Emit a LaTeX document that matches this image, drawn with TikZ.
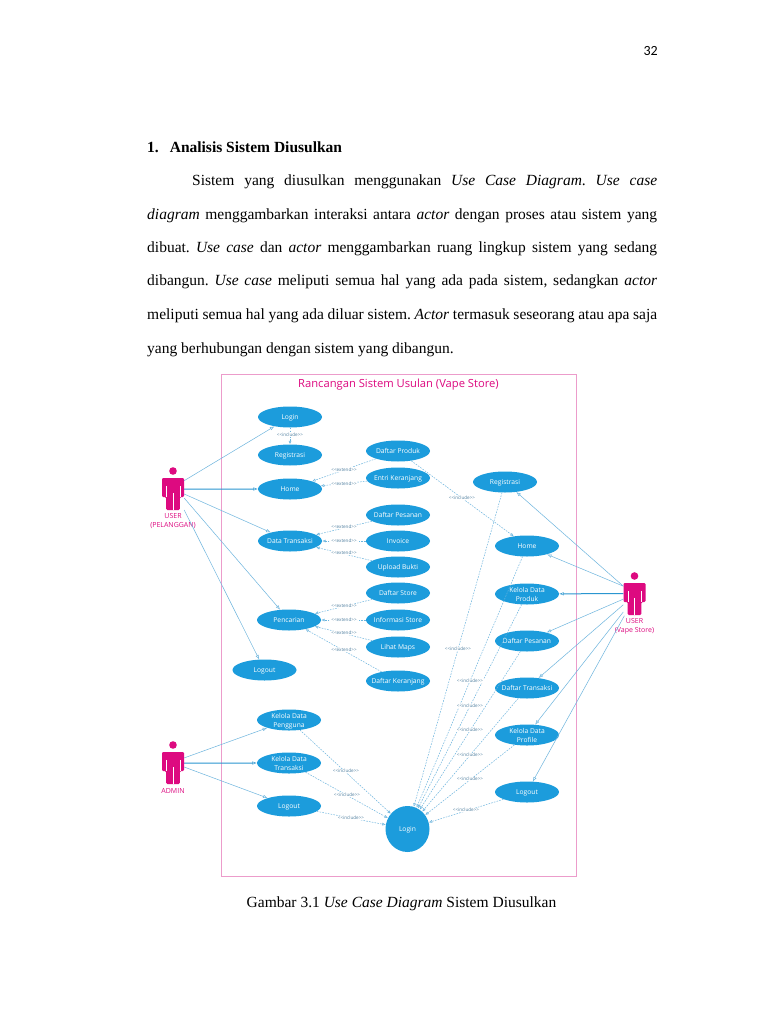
\documentclass[tikz,border=0pt]{standalone}
\usepackage{fontspec}
\setmainfont{Liberation Serif}
\newfontfamily\diag{Open Sans}
\newfontfamily\pagenumfont{Carlito}
\usetikzlibrary{shapes.geometric,arrows.meta}
\definecolor{ucblue}{HTML}{1C9CDC}
\definecolor{linkblue}{HTML}{6DB5DD}
\definecolor{strongblue}{HTML}{2A96D0}
\definecolor{actorpink}{HTML}{DD0A80}
\definecolor{framepink}{HTML}{EC9CCB}
\definecolor{labelgrey}{HTML}{4F7F9F}
\newcommand{\uctext}[1]{\makebox[0pt]{\smash{\raisebox{-0.42em}{\begin{tabular}{@{}c@{}}#1\end{tabular}}}}}
\newcommand{\actorshape}[2]{%
  \begin{scope}[shift={(#1,#2)}]
    \fill[actorpink] (0,-7) circle[radius=3.8];
    \fill[actorpink,rounded corners=1.2] (-11,0) -- (11,0) -- (11,19) -- (6.8,19) -- (6.8,32) -- (-6.8,32) -- (-6.8,19) -- (-11,19) -- cycle;
    \draw[white,line width=0.35] (-6.8,8) -- (-6.8,19) (6.8,8) -- (6.8,19) (0,15) -- (0,32);
  \end{scope}}
\tikzset{
  x=1pt,y=-1pt,
  uc/.style={ellipse,fill=ucblue,text=white,inner sep=0pt,minimum width=64pt,minimum height=21pt,font=\diag\fontsize{6.7}{9.5}\selectfont},
  assoc/.style={draw=linkblue,line width=0.5pt,-{Latex[open,length=4.5pt,width=3.4pt]}},
  strong/.style={draw=strongblue,line width=1pt,-{Latex[open,length=4.5pt,width=3.4pt,line width=0.5pt]}},
  dep/.style={draw=linkblue,line width=0.5pt,dash pattern=on 1.6pt off 1.2pt,-{Latex[open,length=3.5pt,width=3pt]}},
  lbl/.style={inner sep=0.5pt,fill=white,text=labelgrey,font=\diag\fontsize{4.6}{5}\selectfont},
  actorbox/.style={minimum width=#1,minimum height=32pt,inner sep=0pt},
  actorlabel/.style={inner sep=0pt,text=actorpink,align=center,font=\diag\fontsize{7}{8.8}\selectfont},
  body/.style={inner sep=0pt,anchor=base west,font=\fontsize{15.5}{18}\selectfont},
}
\begin{document}
\frenchspacing
\begin{tikzpicture}
\useasboundingbox (0,0) rectangle (768,1024);
\fill[white] (0,0) rectangle (768,1024);
% page text
\node[inner sep=0pt,anchor=base east,font=\pagenumfont\fontsize{14}{16}\selectfont] (pnum) at (658,56) {32};
\node[body,font=\bfseries\fontsize{15.5}{18}\selectfont] (head) at (147,152.5) {1.\hspace{11pt}Analisis Sistem Diusulkan};
\node[body] (l1) at (192,185.5) {\makebox[465pt][s]{Sistem yang diusulkan menggunakan \emph{Use Case Diagram}. \emph{Use case}}};
\node[body] (l2) at (147,219.5) {\makebox[510pt][s]{\emph{diagram} menggambarkan interaksi antara \emph{actor} dengan proses atau sistem yang}};
\node[body] (l3) at (147,252.5) {\makebox[510pt][s]{dibuat. \emph{Use case} dan \emph{actor} menggambarkan ruang lingkup sistem yang sedang}};
\node[body] (l4) at (147,285.5) {\makebox[510pt][s]{dibangun. \emph{Use case} meliputi semua hal yang ada pada sistem, sedangkan \emph{actor}}};
\node[body] (l5) at (147,319.5) {\makebox[510pt][s]{meliputi semua hal yang ada diluar sistem. \emph{Actor} termasuk seseorang atau apa saja}};
\node[body] (l6) at (147,353.5) {yang berhubungan dengan sistem yang dibangun.};
\node[inner sep=0pt,anchor=base,font=\fontsize{15.5}{18}\selectfont] (cap) at (401.5,907) {Gambar 3.1 \emph{Use Case Diagram} Sistem Diusulkan};
% frame
\node[draw=framepink,line width=0.7pt,minimum width=355pt,minimum height=502pt,inner sep=0pt] (frame) at (398.5,625) {};
\node[inner sep=0pt,text=actorpink,font=\diag\fontsize{11.2}{13}\selectfont] (title) at (398.5,384.5) {Rancangan Sistem Usulan (Vape Store)};
% use cases left
\node[uc] (login1) at (290,417) {\uctext{Login}};
\node[uc] (reg1) at (290,455) {\uctext{Registrasi}};
\node[uc] (home1) at (290,489) {\uctext{Home}};
\node[uc] (dt) at (290,541) {\uctext{Data Transaksi}};
\node[uc] (cari) at (289,620) {\uctext{Pencarian}};
\node[uc] (logout1) at (264.5,670) {\uctext{Logout}};
\node[uc] (dprod) at (398,451) {\uctext{Daftar Produk}};
\node[uc] (entri) at (398,478) {\uctext{Entri Keranjang}};
\node[uc] (dpes) at (398,515) {\uctext{Daftar Pesanan}};
\node[uc] (inv) at (398,541) {\uctext{Invoice}};
\node[uc] (upl) at (398,567) {\uctext{Upload Bukti}};
\node[uc] (dstore) at (398,593) {\uctext{Daftar Store}};
\node[uc] (istore) at (398,620) {\uctext{Informasi Store}};
\node[uc] (maps) at (398,647) {\uctext{Lihat Maps}};
\node[uc] (dker) at (398,681) {\uctext{Daftar Keranjang}};
\node[uc] (kpeng) at (289,720) {\uctext{Kelola Data\\Pengguna}};
\node[uc] (ktran) at (289,763) {\uctext{Kelola Data\\Transaksi}};
\node[uc] (logout2) at (289,806) {\uctext{Logout}};
\node[uc,minimum width=44pt,minimum height=46pt] (login) at (407.5,829) {\uctext{Login}};
% use cases right
\node[uc] (reg3) at (505,482) {\uctext{Registrasi}};
\node[uc] (home3) at (527,546) {\uctext{Home}};
\node[uc] (kprod) at (527,594) {\uctext{Kelola Data\\Produk}};
\node[uc] (pes3) at (527,641) {\uctext{Daftar Pesanan}};
\node[uc] (tran3) at (527,688) {\uctext{Daftar Transaksi}};
\node[uc] (kprof) at (527,735) {\uctext{Kelola Data\\Profile}};
\node[uc] (logout3) at (527,792) {\uctext{Logout}};
% actors
\node[actorbox=22pt] (u1) at (173,494) {};
\node[actorbox=22pt] (u2) at (173,768) {};
\node[actorbox=22pt] (u3) at (634.5,599.5) {};
\node[actorlabel] (u1l) at (173,521) {USER\\(PELANGGAN)};
\node[actorlabel] (u2l) at (173,790.5) {ADMIN};
\node[actorlabel] (u3l) at (634.5,626) {USER\\(Vape Store)};
% associations
\draw[assoc] (u1.50) -- (login1);
\draw[strong] (u1.24) -- (home1);
\draw[assoc] (u1.0) -- (dt);
\draw[assoc] (u1.-20) -- (cari);
\draw[assoc] (u1.-55) -- (logout1);
\draw[assoc] (u2.42) -- (kpeng);
\draw[strong] (u2.24) -- (ktran);
\draw[assoc] (u2.5) -- (logout2);
\draw[assoc] (u3.130) -- (reg3);
\draw[assoc] (u3.130) -- (home3);
\draw[strong] (u3.152) -- (kprod);
\draw[assoc] (u3.178) -- (pes3);
\draw[assoc] (u3.205) -- (tran3);
\draw[assoc] (u3.228) -- (kprof);
\draw[assoc] (u3.238) -- (logout3);
% extend / include
\draw[dep] (login1) -- (reg1);
\draw[dep] (dprod) -- (home1);
\draw[dep] (entri) -- (home1);
\draw[dep] (dpes) -- (dt);
\draw[dep] (inv) -- (dt);
\draw[dep] (upl) -- (dt);
\draw[dep] (dstore) -- (cari);
\draw[dep] (istore) -- (cari);
\draw[dep] (maps) -- (cari);
\draw[dep] (dker) -- (cari);
\draw[dep] (dprod) -- (home3);
\draw[dep] (reg3) -- (login);
\draw[dep] (home3) -- (login);
\draw[dep] (kprod) -- (login);
\draw[dep] (pes3) -- (login);
\draw[dep] (tran3) -- (login);
\draw[dep] (kprof) -- (login);
\draw[dep] (logout3) -- (login);
\draw[dep] (kpeng) -- (login);
\draw[dep] (ktran) -- (login);
\draw[dep] (logout2) -- (login);
% actor figures
\actorshape{173}{478}
\actorshape{173}{752}
\actorshape{634.5}{583}
% labels
\node[lbl] (t1) at (290,435) {<<include>>};
\node[lbl] (t2) at (344,469.5) {<<extend>>};
\node[lbl] (t3) at (344,483.5) {<<extend>>};
\node[lbl] (t4) at (344,527) {<<extend>>};
\node[lbl] (t5) at (344,541) {<<extend>>};
\node[lbl] (t6) at (344,553) {<<extend>>};
\node[lbl] (t7) at (344,606) {<<extend>>};
\node[lbl] (t8) at (344,620) {<<extend>>};
\node[lbl] (t9) at (344,633) {<<extend>>};
\node[lbl] (t10) at (344,650) {<<extend>>};
\node[lbl] (t11) at (462,498) {<<include>>};
\node[lbl] (t12) at (458,649) {<<include>>};
\node[lbl] (t13) at (470,681) {<<include>>};
\node[lbl] (t14) at (470,706) {<<include>>};
\node[lbl] (t15) at (470,730) {<<include>>};
\node[lbl] (t16) at (470,755) {<<include>>};
\node[lbl] (t17) at (470,779) {<<include>>};
\node[lbl] (t18) at (466,810) {<<include>>};
\node[lbl] (t19) at (346,771) {<<include>>};
\node[lbl] (t20) at (347,795) {<<include>>};
\node[lbl] (t21) at (351,818) {<<include>>};
\end{tikzpicture}
\end{document}
